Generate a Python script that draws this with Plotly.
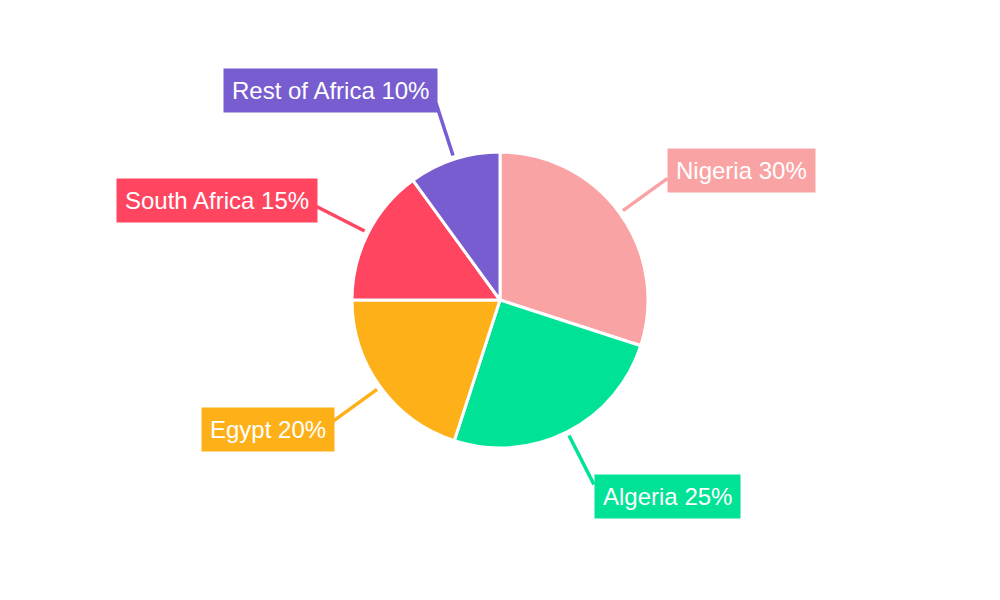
import math
import plotly.graph_objects as go

# share of the market by country
countries = ["Nigeria", "Algeria", "Egypt", "South Africa", "Rest of Africa"]
shares = [30, 25, 20, 15, 10]
colors = ["#F9A3A4", "#00E396", "#FEB019", "#FF4560", "#775DD0"]

W, H = 1000, 600
# the page body adds an 8px margin, so the plot origin sits at (8, 8)
CX, CY, R = 492, 292, 148

fig = go.Figure()
fig.add_trace(go.Pie(
    labels=countries,
    values=shares,
    sort=False,
    direction="clockwise",
    rotation=0,
    marker=dict(colors=colors, line=dict(color="white", width=3)),
    textinfo="none",
    hoverinfo="label+percent",
    domain=dict(x=[(CX - R) / W, (CX + R) / W], y=[(H - CY - R) / H, (H - CY + R) / H]),
))

# leader lines and boxed labels, placed on each slice's mid angle
total = sum(shares)
acc = 0
for name, val, col in zip(countries, shares, colors):
    mid = (acc + val / 2) / total * 2 * math.pi
    acc += val
    s, c = math.sin(mid), math.cos(mid)
    x0, y0 = CX + 152 * s, CY - 152 * c
    x1, y1 = CX + 207 * s, CY - 207 * c
    fig.add_shape(type="line", xref="paper", yref="paper",
                  x0=x0 / W, y0=1 - y0 / H, x1=x1 / W, y1=1 - y1 / H,
                  line=dict(color=col, width=3.5))
    fig.add_annotation(
        xref="paper", yref="paper",
        x=(x1 + (2 if s < 0 else 0)) / W, y=1 - (y1 - 13 * c) / H,
        text=f"{name} {round(val / total * 100)}%",
        showarrow=False,
        xanchor="left" if s > 0 else "right",
        yanchor="middle",
        bgcolor=col,
        borderpad=8,
        font=dict(family="Liberation Sans, Arial, sans-serif", size=24, color="white"),
    )

fig.update_layout(
    width=W, height=H,
    margin=dict(l=0, r=0, t=0, b=0),
    showlegend=False,
    paper_bgcolor="white",
    plot_bgcolor="white",
)

fig.write_html("out.html")
